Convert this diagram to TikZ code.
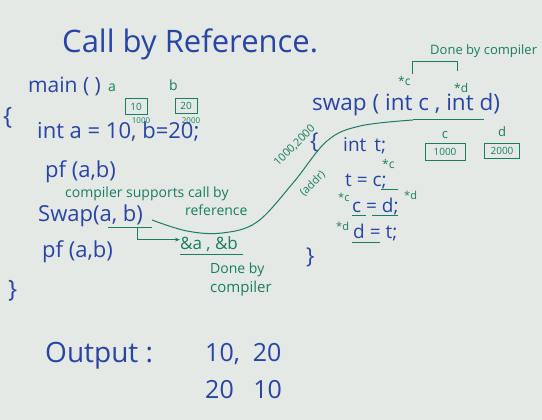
\documentclass[tikz,border=0pt]{standalone}
\usepackage{fontspec}
\setmainfont{Open Sans}
\usetikzlibrary{arrows.meta}
\definecolor{ink}{RGB}{40,68,165}
\definecolor{pen}{RGB}{25,125,95}
\definecolor{paper}{RGB}{228,233,230}
\newcommand{\fs}[1]{\fontsize{#1}{#1}\selectfont}
\begin{document}
\begin{tikzpicture}[x=1pt,y=-1pt,
  bl/.style={text=ink, inner sep=0pt, anchor=base west},
  gr/.style={text=pen, inner sep=0pt, anchor=base west},
  gline/.style={draw=pen, line width=1pt},
  gbox/.style={draw=pen, line width=1pt, text=pen, inner sep=1pt, font=\fs{10}}]
\fill[paper] (0,0) rectangle (542,420);
\useasboundingbox (0,0) rectangle (542,420);
% title
\node[bl, font=\fs{31}] (title) at (62,53) {Call by Reference.};
% main
\node[bl, font=\fs{21}] (main) at (28,93) {main ( )};
\node[gr, font=\fs{14}] (la) at (108,92) {a};
\node[gr, font=\fs{14}] (lb) at (169,91) {b};
\node[gbox, minimum width=22pt, minimum height=16pt] (ba) at (136,107) {10};
\node[gbox, minimum width=22pt, minimum height=15pt] (bb) at (186,106) {20};
\node[gr, font=\fs{8}, anchor=base] (aa) at (141,124) {1000};
\node[gr, font=\fs{8}, anchor=base] (ab) at (191,124) {2000};
\node[bl, font=\fs{24}] (lbrace) at (3,125) {\{};
\node[bl, font=\fs{22}] (intab) at (37,139) {int a = 10, b=20;};
\node[bl, font=\fs{22}] (pf1) at (45,178) {pf (a,b)};
\node[gr, font=\fs{14}] (sup1) at (65,197) {compiler supports call by};
\node[gr, font=\fs{14}] (sup2) at (185,215) {reference};
\node[bl, font=\fs{22}] (swapcall) at (38,222) {Swap(a, b)};
\node[bl, font=\fs{22}] (pf2) at (42,258) {pf (a,b)};
\node[bl, font=\fs{24}] (rbrace) at (8,298) {\}};
\coordinate (u1s) at (108,228);
\coordinate (u1e) at (152,228);
\coordinate (u1m) at (137,228);
\draw[gline] (u1s) -- (u1e);
\node[gr, font=\fs{17}] (amp) at (180,249) {\&a , \&b};
\draw[gline, -{Stealth[length=5pt]}] (u1m) |- ([yshift=4pt]amp.west);
\coordinate (u3s) at (180,255);
\coordinate (u3e) at (243,255);
\draw[gline] (u3s) -- (u3e);
\node[gr, font=\fs{14}] (done2) at (210,273) {Done by};
\node[gr, font=\fs{15}] (comp2) at (210,293) {compiler};
% right side
\node[gr, font=\fs{13}] (done1) at (430,55) {Done by compiler};
\coordinate (brl) at (412,74);
\coordinate (brr) at (457,71);
\draw[gline] (brl) -- (412,62) -- (457,62) -- (brr);
\node[gr, font=\fs{12}] (sc) at (398,86) {*c};
\node[gr, font=\fs{12}] (sd) at (454,93) {*d};
\node[bl, font=\fs{22.5}] (swapdef) at (312,111) {swap ( int c , int d)};
\coordinate (u2s) at (413,120);
\coordinate (u2e) at (484,120);
\draw[gline] (u2s) -- (u2e);
\coordinate (cs) at (152,220);
\draw[gline] plot[smooth, tension=0.6] coordinates {(cs) (187,231) (222,233) (257,222) (293,183) (327,141) (360,126) (u2s)};
\node[gr, font=\fs{11}, rotate=45] (addr1) at (278,167) {1000,2000};
\node[gr, font=\fs{11}, rotate=45] (addr2) at (304,197) {(addr)};
\node[bl, font=\fs{22}] (lbrace2) at (310,149) {\{};
\node[bl, font=\fs{19}] (intt) at (343,152) {int\, t;};
\node[gr, font=\fs{13}, anchor=base] (lc) at (445,139) {c};
\node[gbox, minimum width=40pt, minimum height=17pt] (bc) at (445,152) {1000};
\node[gr, font=\fs{13}, anchor=base] (ld) at (502,137) {d};
\node[gbox, minimum width=35pt, minimum height=15pt] (bd) at (502,151) {2000};
\node[gr, font=\fs{12}] (sc2) at (382,168) {*c};
\node[bl, font=\fs{19}] (tc) at (345,186) {t = c;};
\draw[gline] (381,190) -- (398,190);
\node[gr, font=\fs{11}] (sc3) at (338,201) {*c};
\node[bl, font=\fs{19}] (cd) at (352,212) {c = d;};
\node[gr, font=\fs{11}] (sd2) at (404,200) {*d};
\draw[gline] (352,216) -- (366,216);
\draw[gline] (372,216) -- (398,216);
\node[gr, font=\fs{11}] (sd3) at (336,230) {*d};
\node[bl, font=\fs{19}] (dt) at (353,238) {d = t;};
\draw[gline] (352,243) -- (380,243);
\node[bl, font=\fs{22}] (rbrace2) at (306,263) {\}};
% output
\node[bl, font=\fs{28}] (out) at (45,362) {Output :};
\node[bl, font=\fs{25}] (o1) at (205,361) {10,\ \ 20};
\node[bl, font=\fs{25}] (o2) at (205,398) {20\ \ \ 10};
\end{tikzpicture}
\end{document}
